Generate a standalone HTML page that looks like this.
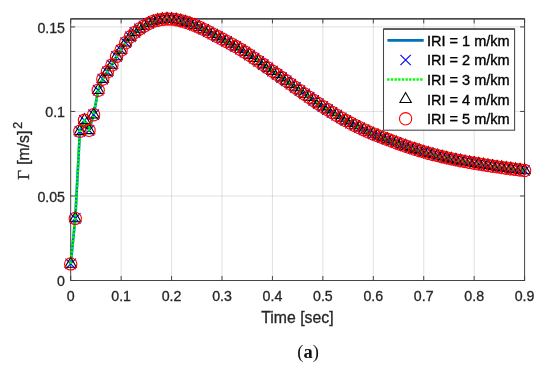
<!DOCTYPE html>
<html lang="en">
<head>
<meta charset="utf-8">
<title>Figure (a)</title>
<style>
html,body{margin:0;padding:0;background:#fff;}
body{width:550px;height:367px;overflow:hidden;position:relative;}
svg{display:block;position:absolute;left:0;top:0;}
svg text{font-family:"Liberation Sans",Arial,Helvetica,sans-serif;fill:#262626;stroke:#262626;stroke-width:0.3px;}
.tk text{font-size:14.2px;}
.lg text{font-size:14.55px;fill:#000;stroke:#000;stroke-width:0.35px;}
.cap{position:absolute;left:258px;width:100px;top:342px;text-align:center;font-family:"Liberation Serif","Times New Roman",serif;font-size:18.5px;color:#111;line-height:20px;}
</style>
</head>
<body>
<svg width="550" height="367" viewBox="0 0 550 367">
<rect x="0" y="0" width="550" height="367" fill="#fff"/>
<path d="M121.13 18.9V280.5M171.57 18.9V280.5M222 18.9V280.5M272.43 18.9V280.5M322.87 18.9V280.5M373.3 18.9V280.5M423.73 18.9V280.5M474.17 18.9V280.5" stroke="#1a1a1a" stroke-opacity="0.13" stroke-width="1" fill="none"/>
<path d="M70.7 195.97H524.6M70.7 111.43H524.6M70.7 26.9H524.6" stroke="#1a1a1a" stroke-opacity="0.13" stroke-width="1" fill="none"/>
<rect x="70.7" y="18.9" width="453.9" height="261.6" fill="none" stroke="#3c3c3c" stroke-width="0.95"/>
<path d="M70.7 280.5v-4.5M70.7 18.9v4.5M121.13 280.5v-4.5M121.13 18.9v4.5M171.57 280.5v-4.5M171.57 18.9v4.5M222 280.5v-4.5M222 18.9v4.5M272.43 280.5v-4.5M272.43 18.9v4.5M322.87 280.5v-4.5M322.87 18.9v4.5M373.3 280.5v-4.5M373.3 18.9v4.5M423.73 280.5v-4.5M423.73 18.9v4.5M474.17 280.5v-4.5M474.17 18.9v4.5M524.6 280.5v-4.5M524.6 18.9v4.5M70.7 280.5h4.5M524.6 280.5h-4.5M70.7 195.97h4.5M524.6 195.97h-4.5M70.7 111.43h4.5M524.6 111.43h-4.5M70.7 26.9h4.5M524.6 26.9h-4.5" stroke="#3c3c3c" stroke-width="0.95" fill="none"/>
<path d="M70.7 18.75H524.6" stroke="#4a4a4a" stroke-width="1.5" fill="none"/>
<g fill="none" stroke-linejoin="round">
<polyline points="70.7,263.9 75.28,218.4 79.87,131.3 84.45,120.3 89.04,130.3 93.62,114.7 98.21,90.2 102.79,79.1 107.38,71.8 111.96,65 116.55,56.4 121.13,50 125.72,42.69 130.3,36.8 134.89,32.37 139.47,28.9 144.06,26.03 148.64,23.42 153.23,21.38 157.81,20.26 162.4,19.54 166.98,18.98 171.57,19.15 176.15,19.71 180.74,20.76 185.32,22.03 189.91,23.51 194.49,25.23 199.08,27.14 203.66,29.38 208.25,31.76 212.83,34.13 217.42,36.54 222,38.99 226.58,41.46 231.17,43.97 235.75,46.56 240.34,49.24 244.92,52.05 249.51,55.04 254.09,58.16 258.68,61.33 263.26,64.56 267.85,67.83 272.43,71.09 277.02,74.3 281.6,77.54 286.19,80.82 290.77,84.12 295.36,87.41 299.94,90.68 304.53,93.95 309.11,97.2 313.7,100.41 318.28,103.56 322.87,106.61 327.45,109.56 332.04,112.41 336.62,115.18 341.21,117.91 345.79,120.55 350.38,123.07 354.96,125.45 359.55,127.72 364.13,129.9 368.72,131.99 373.3,133.96 377.88,135.81 382.47,137.58 387.05,139.3 391.64,141.01 396.22,142.72 400.81,144.41 405.39,146.04 409.98,147.59 414.56,149.07 419.15,150.5 423.73,151.88 428.32,153.2 432.9,154.45 437.49,155.63 442.07,156.77 446.66,157.85 451.24,158.88 455.83,159.86 460.41,160.78 465,161.63 469.58,162.41 474.17,163.18 478.75,163.94 483.34,164.71 487.92,165.45 492.51,166.18 497.09,166.88 501.68,167.54 506.26,168.18 510.85,168.79 515.43,169.39 520.02,169.96 524.6,170.5" stroke="#0072BD" stroke-width="2.6"/>
<path d="M65.5 258.7l10.4 10.4M65.5 269.1l10.4 -10.4M70.08 213.2l10.4 10.4M70.08 223.6l10.4 -10.4M74.67 126.1l10.4 10.4M74.67 136.5l10.4 -10.4M79.25 115.1l10.4 10.4M79.25 125.5l10.4 -10.4M83.84 125.1l10.4 10.4M83.84 135.5l10.4 -10.4M88.42 109.5l10.4 10.4M88.42 119.9l10.4 -10.4M93.01 85l10.4 10.4M93.01 95.4l10.4 -10.4M97.59 73.9l10.4 10.4M97.59 84.3l10.4 -10.4M102.18 66.6l10.4 10.4M102.18 77l10.4 -10.4M106.76 59.8l10.4 10.4M106.76 70.2l10.4 -10.4M111.35 51.2l10.4 10.4M111.35 61.6l10.4 -10.4M115.93 44.8l10.4 10.4M115.93 55.2l10.4 -10.4M120.52 37.49l10.4 10.4M120.52 47.89l10.4 -10.4M125.1 31.6l10.4 10.4M125.1 42l10.4 -10.4M129.69 27.17l10.4 10.4M129.69 37.57l10.4 -10.4M134.27 23.7l10.4 10.4M134.27 34.1l10.4 -10.4M138.86 20.83l10.4 10.4M138.86 31.23l10.4 -10.4M143.44 18.22l10.4 10.4M143.44 28.62l10.4 -10.4M148.03 16.18l10.4 10.4M148.03 26.58l10.4 -10.4M152.61 15.06l10.4 10.4M152.61 25.46l10.4 -10.4M157.2 14.34l10.4 10.4M157.2 24.74l10.4 -10.4M161.78 13.78l10.4 10.4M161.78 24.18l10.4 -10.4M166.37 13.95l10.4 10.4M166.37 24.35l10.4 -10.4M170.95 14.51l10.4 10.4M170.95 24.91l10.4 -10.4M175.54 15.56l10.4 10.4M175.54 25.96l10.4 -10.4M180.12 16.83l10.4 10.4M180.12 27.23l10.4 -10.4M184.71 18.31l10.4 10.4M184.71 28.71l10.4 -10.4M189.29 20.03l10.4 10.4M189.29 30.43l10.4 -10.4M193.88 21.94l10.4 10.4M193.88 32.34l10.4 -10.4M198.46 24.18l10.4 10.4M198.46 34.58l10.4 -10.4M203.05 26.56l10.4 10.4M203.05 36.96l10.4 -10.4M207.63 28.93l10.4 10.4M207.63 39.33l10.4 -10.4M212.22 31.34l10.4 10.4M212.22 41.74l10.4 -10.4M216.8 33.79l10.4 10.4M216.8 44.19l10.4 -10.4M221.38 36.26l10.4 10.4M221.38 46.66l10.4 -10.4M225.97 38.77l10.4 10.4M225.97 49.17l10.4 -10.4M230.55 41.36l10.4 10.4M230.55 51.76l10.4 -10.4M235.14 44.04l10.4 10.4M235.14 54.44l10.4 -10.4M239.72 46.85l10.4 10.4M239.72 57.25l10.4 -10.4M244.31 49.84l10.4 10.4M244.31 60.24l10.4 -10.4M248.89 52.96l10.4 10.4M248.89 63.36l10.4 -10.4M253.48 56.13l10.4 10.4M253.48 66.53l10.4 -10.4M258.06 59.36l10.4 10.4M258.06 69.76l10.4 -10.4M262.65 62.63l10.4 10.4M262.65 73.03l10.4 -10.4M267.23 65.89l10.4 10.4M267.23 76.29l10.4 -10.4M271.82 69.1l10.4 10.4M271.82 79.5l10.4 -10.4M276.4 72.34l10.4 10.4M276.4 82.74l10.4 -10.4M280.99 75.62l10.4 10.4M280.99 86.02l10.4 -10.4M285.57 78.92l10.4 10.4M285.57 89.32l10.4 -10.4M290.16 82.21l10.4 10.4M290.16 92.61l10.4 -10.4M294.74 85.48l10.4 10.4M294.74 95.88l10.4 -10.4M299.33 88.75l10.4 10.4M299.33 99.15l10.4 -10.4M303.91 92l10.4 10.4M303.91 102.4l10.4 -10.4M308.5 95.21l10.4 10.4M308.5 105.61l10.4 -10.4M313.08 98.36l10.4 10.4M313.08 108.76l10.4 -10.4M317.67 101.41l10.4 10.4M317.67 111.81l10.4 -10.4M322.25 104.36l10.4 10.4M322.25 114.76l10.4 -10.4M326.84 107.21l10.4 10.4M326.84 117.61l10.4 -10.4M331.42 109.98l10.4 10.4M331.42 120.38l10.4 -10.4M336.01 112.71l10.4 10.4M336.01 123.11l10.4 -10.4M340.59 115.35l10.4 10.4M340.59 125.75l10.4 -10.4M345.18 117.87l10.4 10.4M345.18 128.27l10.4 -10.4M349.76 120.25l10.4 10.4M349.76 130.65l10.4 -10.4M354.35 122.52l10.4 10.4M354.35 132.92l10.4 -10.4M358.93 124.7l10.4 10.4M358.93 135.1l10.4 -10.4M363.52 126.79l10.4 10.4M363.52 137.19l10.4 -10.4M368.1 128.76l10.4 10.4M368.1 139.16l10.4 -10.4M372.68 130.61l10.4 10.4M372.68 141.01l10.4 -10.4M377.27 132.38l10.4 10.4M377.27 142.78l10.4 -10.4M381.85 134.1l10.4 10.4M381.85 144.5l10.4 -10.4M386.44 135.81l10.4 10.4M386.44 146.21l10.4 -10.4M391.02 137.52l10.4 10.4M391.02 147.92l10.4 -10.4M395.61 139.21l10.4 10.4M395.61 149.61l10.4 -10.4M400.19 140.84l10.4 10.4M400.19 151.24l10.4 -10.4M404.78 142.39l10.4 10.4M404.78 152.79l10.4 -10.4M409.36 143.87l10.4 10.4M409.36 154.27l10.4 -10.4M413.95 145.3l10.4 10.4M413.95 155.7l10.4 -10.4M418.53 146.68l10.4 10.4M418.53 157.08l10.4 -10.4M423.12 148l10.4 10.4M423.12 158.4l10.4 -10.4M427.7 149.25l10.4 10.4M427.7 159.65l10.4 -10.4M432.29 150.43l10.4 10.4M432.29 160.83l10.4 -10.4M436.87 151.57l10.4 10.4M436.87 161.97l10.4 -10.4M441.46 152.65l10.4 10.4M441.46 163.05l10.4 -10.4M446.04 153.68l10.4 10.4M446.04 164.08l10.4 -10.4M450.63 154.66l10.4 10.4M450.63 165.06l10.4 -10.4M455.21 155.58l10.4 10.4M455.21 165.98l10.4 -10.4M459.8 156.43l10.4 10.4M459.8 166.83l10.4 -10.4M464.38 157.21l10.4 10.4M464.38 167.61l10.4 -10.4M468.97 157.98l10.4 10.4M468.97 168.38l10.4 -10.4M473.55 158.74l10.4 10.4M473.55 169.14l10.4 -10.4M478.14 159.51l10.4 10.4M478.14 169.91l10.4 -10.4M482.72 160.25l10.4 10.4M482.72 170.65l10.4 -10.4M487.31 160.98l10.4 10.4M487.31 171.38l10.4 -10.4M491.89 161.68l10.4 10.4M491.89 172.08l10.4 -10.4M496.48 162.34l10.4 10.4M496.48 172.74l10.4 -10.4M501.06 162.98l10.4 10.4M501.06 173.38l10.4 -10.4M505.65 163.59l10.4 10.4M505.65 173.99l10.4 -10.4M510.23 164.19l10.4 10.4M510.23 174.59l10.4 -10.4M514.82 164.76l10.4 10.4M514.82 175.16l10.4 -10.4M519.4 165.3l10.4 10.4M519.4 175.7l10.4 -10.4" stroke="#00f" stroke-width="1.1"/>
<polyline points="70.7,263.9 75.28,218.4 79.87,131.3 84.45,120.3 89.04,130.3 93.62,114.7 98.21,90.2 102.79,79.1 107.38,71.8 111.96,65 116.55,56.4 121.13,50 125.72,42.69 130.3,36.8 134.89,32.37 139.47,28.9 144.06,26.03 148.64,23.42 153.23,21.38 157.81,20.26 162.4,19.54 166.98,18.98 171.57,19.15 176.15,19.71 180.74,20.76 185.32,22.03 189.91,23.51 194.49,25.23 199.08,27.14 203.66,29.38 208.25,31.76 212.83,34.13 217.42,36.54 222,38.99 226.58,41.46 231.17,43.97 235.75,46.56 240.34,49.24 244.92,52.05 249.51,55.04 254.09,58.16 258.68,61.33 263.26,64.56 267.85,67.83 272.43,71.09 277.02,74.3 281.6,77.54 286.19,80.82 290.77,84.12 295.36,87.41 299.94,90.68 304.53,93.95 309.11,97.2 313.7,100.41 318.28,103.56 322.87,106.61 327.45,109.56 332.04,112.41 336.62,115.18 341.21,117.91 345.79,120.55 350.38,123.07 354.96,125.45 359.55,127.72 364.13,129.9 368.72,131.99 373.3,133.96 377.88,135.81 382.47,137.58 387.05,139.3 391.64,141.01 396.22,142.72 400.81,144.41 405.39,146.04 409.98,147.59 414.56,149.07 419.15,150.5 423.73,151.88 428.32,153.2 432.9,154.45 437.49,155.63 442.07,156.77 446.66,157.85 451.24,158.88 455.83,159.86 460.41,160.78 465,161.63 469.58,162.41 474.17,163.18 478.75,163.94 483.34,164.71 487.92,165.45 492.51,166.18 497.09,166.88 501.68,167.54 506.26,168.18 510.85,168.79 515.43,169.39 520.02,169.96 524.6,170.5" stroke="#0f0" stroke-width="2.7" stroke-dasharray="2.2 1.47"/>
<path d="M65 267.2L70.7 257.3L76.4 267.2ZM69.58 221.7L75.28 211.8L80.98 221.7ZM74.17 134.6L79.87 124.7L85.57 134.6ZM78.75 123.6L84.45 113.7L90.15 123.6ZM83.34 133.6L89.04 123.7L94.74 133.6ZM87.92 118L93.62 108.1L99.32 118ZM92.51 93.5L98.21 83.6L103.91 93.5ZM97.09 82.4L102.79 72.5L108.49 82.4ZM101.68 75.1L107.38 65.2L113.08 75.1ZM106.26 68.3L111.96 58.4L117.66 68.3ZM110.85 59.7L116.55 49.8L122.25 59.7ZM115.43 53.3L121.13 43.4L126.83 53.3ZM120.02 45.99L125.72 36.09L131.42 45.99ZM124.6 40.1L130.3 30.2L136 40.1ZM129.19 35.67L134.89 25.77L140.59 35.67ZM133.77 32.2L139.47 22.3L145.17 32.2ZM138.36 29.33L144.06 19.43L149.76 29.33ZM142.94 26.72L148.64 16.82L154.34 26.72ZM147.53 24.68L153.23 14.78L158.93 24.68ZM152.11 23.56L157.81 13.66L163.51 23.56ZM156.7 22.84L162.4 12.94L168.1 22.84ZM161.28 22.28L166.98 12.38L172.68 22.28ZM165.87 22.45L171.57 12.55L177.27 22.45ZM170.45 23.01L176.15 13.11L181.85 23.01ZM175.04 24.06L180.74 14.16L186.44 24.06ZM179.62 25.33L185.32 15.43L191.02 25.33ZM184.21 26.81L189.91 16.91L195.61 26.81ZM188.79 28.53L194.49 18.63L200.19 28.53ZM193.38 30.44L199.08 20.54L204.78 30.44ZM197.96 32.68L203.66 22.78L209.36 32.68ZM202.55 35.06L208.25 25.16L213.95 35.06ZM207.13 37.43L212.83 27.53L218.53 37.43ZM211.72 39.84L217.42 29.94L223.12 39.84ZM216.3 42.29L222 32.39L227.7 42.29ZM220.88 44.76L226.58 34.86L232.28 44.76ZM225.47 47.27L231.17 37.37L236.87 47.27ZM230.05 49.86L235.75 39.96L241.45 49.86ZM234.64 52.54L240.34 42.64L246.04 52.54ZM239.22 55.35L244.92 45.45L250.62 55.35ZM243.81 58.34L249.51 48.44L255.21 58.34ZM248.39 61.46L254.09 51.56L259.79 61.46ZM252.98 64.63L258.68 54.73L264.38 64.63ZM257.56 67.86L263.26 57.96L268.96 67.86ZM262.15 71.13L267.85 61.23L273.55 71.13ZM266.73 74.39L272.43 64.49L278.13 74.39ZM271.32 77.6L277.02 67.7L282.72 77.6ZM275.9 80.84L281.6 70.94L287.3 80.84ZM280.49 84.12L286.19 74.22L291.89 84.12ZM285.07 87.42L290.77 77.52L296.47 87.42ZM289.66 90.71L295.36 80.81L301.06 90.71ZM294.24 93.98L299.94 84.08L305.64 93.98ZM298.83 97.25L304.53 87.35L310.23 97.25ZM303.41 100.5L309.11 90.6L314.81 100.5ZM308 103.71L313.7 93.81L319.4 103.71ZM312.58 106.86L318.28 96.96L323.98 106.86ZM317.17 109.91L322.87 100.01L328.57 109.91ZM321.75 112.86L327.45 102.96L333.15 112.86ZM326.34 115.71L332.04 105.81L337.74 115.71ZM330.92 118.48L336.62 108.58L342.32 118.48ZM335.51 121.21L341.21 111.31L346.91 121.21ZM340.09 123.85L345.79 113.95L351.49 123.85ZM344.68 126.37L350.38 116.47L356.08 126.37ZM349.26 128.75L354.96 118.85L360.66 128.75ZM353.85 131.02L359.55 121.12L365.25 131.02ZM358.43 133.2L364.13 123.3L369.83 133.2ZM363.02 135.29L368.72 125.39L374.42 135.29ZM367.6 137.26L373.3 127.36L379 137.26ZM372.18 139.11L377.88 129.21L383.58 139.11ZM376.77 140.88L382.47 130.98L388.17 140.88ZM381.35 142.6L387.05 132.7L392.75 142.6ZM385.94 144.31L391.64 134.41L397.34 144.31ZM390.52 146.02L396.22 136.12L401.92 146.02ZM395.11 147.71L400.81 137.81L406.51 147.71ZM399.69 149.34L405.39 139.44L411.09 149.34ZM404.28 150.89L409.98 140.99L415.68 150.89ZM408.86 152.37L414.56 142.47L420.26 152.37ZM413.45 153.8L419.15 143.9L424.85 153.8ZM418.03 155.18L423.73 145.28L429.43 155.18ZM422.62 156.5L428.32 146.6L434.02 156.5ZM427.2 157.75L432.9 147.85L438.6 157.75ZM431.79 158.93L437.49 149.03L443.19 158.93ZM436.37 160.07L442.07 150.17L447.77 160.07ZM440.96 161.15L446.66 151.25L452.36 161.15ZM445.54 162.18L451.24 152.28L456.94 162.18ZM450.13 163.16L455.83 153.26L461.53 163.16ZM454.71 164.08L460.41 154.18L466.11 164.08ZM459.3 164.93L465 155.03L470.7 164.93ZM463.88 165.71L469.58 155.81L475.28 165.71ZM468.47 166.48L474.17 156.58L479.87 166.48ZM473.05 167.24L478.75 157.34L484.45 167.24ZM477.64 168.01L483.34 158.11L489.04 168.01ZM482.22 168.75L487.92 158.85L493.62 168.75ZM486.81 169.48L492.51 159.58L498.21 169.48ZM491.39 170.18L497.09 160.28L502.79 170.18ZM495.98 170.84L501.68 160.94L507.38 170.84ZM500.56 171.48L506.26 161.58L511.96 171.48ZM505.15 172.09L510.85 162.19L516.55 172.09ZM509.73 172.69L515.43 162.79L521.13 172.69ZM514.32 173.26L520.02 163.36L525.72 173.26ZM518.9 173.8L524.6 163.9L530.3 173.8Z" stroke="#000" stroke-width="1.1" stroke-linejoin="miter"/>
<g stroke="#f00" stroke-width="1.1"><circle cx="70.7" cy="263.9" r="6.15"/><circle cx="75.28" cy="218.4" r="6.15"/><circle cx="79.87" cy="131.3" r="6.15"/><circle cx="84.45" cy="120.3" r="6.15"/><circle cx="89.04" cy="130.3" r="6.15"/><circle cx="93.62" cy="114.7" r="6.15"/><circle cx="98.21" cy="90.2" r="6.15"/><circle cx="102.79" cy="79.1" r="6.15"/><circle cx="107.38" cy="71.8" r="6.15"/><circle cx="111.96" cy="65" r="6.15"/><circle cx="116.55" cy="56.4" r="6.15"/><circle cx="121.13" cy="50" r="6.15"/><circle cx="125.72" cy="42.69" r="6.15"/><circle cx="130.3" cy="36.8" r="6.15"/><circle cx="134.89" cy="32.37" r="6.15"/><circle cx="139.47" cy="28.9" r="6.15"/><circle cx="144.06" cy="26.03" r="6.15"/><circle cx="148.64" cy="23.42" r="6.15"/><circle cx="153.23" cy="21.38" r="6.15"/><circle cx="157.81" cy="20.26" r="6.15"/><circle cx="162.4" cy="19.54" r="6.15"/><circle cx="166.98" cy="18.98" r="6.15"/><circle cx="171.57" cy="19.15" r="6.15"/><circle cx="176.15" cy="19.71" r="6.15"/><circle cx="180.74" cy="20.76" r="6.15"/><circle cx="185.32" cy="22.03" r="6.15"/><circle cx="189.91" cy="23.51" r="6.15"/><circle cx="194.49" cy="25.23" r="6.15"/><circle cx="199.08" cy="27.14" r="6.15"/><circle cx="203.66" cy="29.38" r="6.15"/><circle cx="208.25" cy="31.76" r="6.15"/><circle cx="212.83" cy="34.13" r="6.15"/><circle cx="217.42" cy="36.54" r="6.15"/><circle cx="222" cy="38.99" r="6.15"/><circle cx="226.58" cy="41.46" r="6.15"/><circle cx="231.17" cy="43.97" r="6.15"/><circle cx="235.75" cy="46.56" r="6.15"/><circle cx="240.34" cy="49.24" r="6.15"/><circle cx="244.92" cy="52.05" r="6.15"/><circle cx="249.51" cy="55.04" r="6.15"/><circle cx="254.09" cy="58.16" r="6.15"/><circle cx="258.68" cy="61.33" r="6.15"/><circle cx="263.26" cy="64.56" r="6.15"/><circle cx="267.85" cy="67.83" r="6.15"/><circle cx="272.43" cy="71.09" r="6.15"/><circle cx="277.02" cy="74.3" r="6.15"/><circle cx="281.6" cy="77.54" r="6.15"/><circle cx="286.19" cy="80.82" r="6.15"/><circle cx="290.77" cy="84.12" r="6.15"/><circle cx="295.36" cy="87.41" r="6.15"/><circle cx="299.94" cy="90.68" r="6.15"/><circle cx="304.53" cy="93.95" r="6.15"/><circle cx="309.11" cy="97.2" r="6.15"/><circle cx="313.7" cy="100.41" r="6.15"/><circle cx="318.28" cy="103.56" r="6.15"/><circle cx="322.87" cy="106.61" r="6.15"/><circle cx="327.45" cy="109.56" r="6.15"/><circle cx="332.04" cy="112.41" r="6.15"/><circle cx="336.62" cy="115.18" r="6.15"/><circle cx="341.21" cy="117.91" r="6.15"/><circle cx="345.79" cy="120.55" r="6.15"/><circle cx="350.38" cy="123.07" r="6.15"/><circle cx="354.96" cy="125.45" r="6.15"/><circle cx="359.55" cy="127.72" r="6.15"/><circle cx="364.13" cy="129.9" r="6.15"/><circle cx="368.72" cy="131.99" r="6.15"/><circle cx="373.3" cy="133.96" r="6.15"/><circle cx="377.88" cy="135.81" r="6.15"/><circle cx="382.47" cy="137.58" r="6.15"/><circle cx="387.05" cy="139.3" r="6.15"/><circle cx="391.64" cy="141.01" r="6.15"/><circle cx="396.22" cy="142.72" r="6.15"/><circle cx="400.81" cy="144.41" r="6.15"/><circle cx="405.39" cy="146.04" r="6.15"/><circle cx="409.98" cy="147.59" r="6.15"/><circle cx="414.56" cy="149.07" r="6.15"/><circle cx="419.15" cy="150.5" r="6.15"/><circle cx="423.73" cy="151.88" r="6.15"/><circle cx="428.32" cy="153.2" r="6.15"/><circle cx="432.9" cy="154.45" r="6.15"/><circle cx="437.49" cy="155.63" r="6.15"/><circle cx="442.07" cy="156.77" r="6.15"/><circle cx="446.66" cy="157.85" r="6.15"/><circle cx="451.24" cy="158.88" r="6.15"/><circle cx="455.83" cy="159.86" r="6.15"/><circle cx="460.41" cy="160.78" r="6.15"/><circle cx="465" cy="161.63" r="6.15"/><circle cx="469.58" cy="162.41" r="6.15"/><circle cx="474.17" cy="163.18" r="6.15"/><circle cx="478.75" cy="163.94" r="6.15"/><circle cx="483.34" cy="164.71" r="6.15"/><circle cx="487.92" cy="165.45" r="6.15"/><circle cx="492.51" cy="166.18" r="6.15"/><circle cx="497.09" cy="166.88" r="6.15"/><circle cx="501.68" cy="167.54" r="6.15"/><circle cx="506.26" cy="168.18" r="6.15"/><circle cx="510.85" cy="168.79" r="6.15"/><circle cx="515.43" cy="169.39" r="6.15"/><circle cx="520.02" cy="169.96" r="6.15"/><circle cx="524.6" cy="170.5" r="6.15"/></g>
</g>
<g class="tk"><text x="70.7" y="301.4" text-anchor="middle">0</text><text x="121.13" y="301.4" text-anchor="middle">0.1</text><text x="171.57" y="301.4" text-anchor="middle">0.2</text><text x="222" y="301.4" text-anchor="middle">0.3</text><text x="272.43" y="301.4" text-anchor="middle">0.4</text><text x="322.87" y="301.4" text-anchor="middle">0.5</text><text x="373.3" y="301.4" text-anchor="middle">0.6</text><text x="423.73" y="301.4" text-anchor="middle">0.7</text><text x="474.17" y="301.4" text-anchor="middle">0.8</text><text x="524.6" y="301.4" text-anchor="middle">0.9</text><text x="65" y="286.2" text-anchor="end">0</text><text x="65" y="201.67" text-anchor="end">0.05</text><text x="65" y="117.13" text-anchor="end">0.1</text><text x="65" y="32.6" text-anchor="end">0.15</text></g>
<text x="297.4" y="322.5" text-anchor="middle" font-size="15.8">Time [sec]</text>
<text transform="translate(28.7,150.7) rotate(-90)" text-anchor="middle" font-size="15.8"><tspan font-family="Liberation Serif, Times New Roman, serif" font-size="17">Γ</tspan><tspan dx="0.6"> [m/s]</tspan><tspan dx="2.0" dy="-6.5" font-size="12.5">2</tspan></text>
<g class="lg"><rect x="383.5" y="29.1" width="131.10000000000002" height="101.1" fill="#fff" stroke="#454545" stroke-width="1.05"/><path d="M383.5 29.0H514.6" stroke="#4a4a4a" stroke-width="1.5" fill="none"/><path d="M387.4 40.4H423.7" stroke="#0072BD" stroke-width="2.6" fill="none"/><path d="M400.40000000000003 54.8l10.4 10.4M400.40000000000003 65.2l10.4 -10.4" stroke="#00f" stroke-width="1.1" fill="none"/><path d="M387.1 79.5H422.6" stroke="#0f0" stroke-width="2.7" stroke-dasharray="2.4 1.27" fill="none"/><path d="M399.90000000000003 102.5L405.6 92.60000000000001L411.3 102.5Z" stroke="#000" stroke-width="1.1" fill="none"/><circle cx="405.6" cy="118.8" r="6.15" stroke="#f00" stroke-width="1.1" fill="none"/><text x="426.9" y="45.8">IRI = 1 m/km</text><text x="426.9" y="65.4">IRI = 2 m/km</text><text x="426.9" y="84.9">IRI = 3 m/km</text><text x="426.9" y="104.6">IRI = 4 m/km</text><text x="426.9" y="124.2">IRI = 5 m/km</text></g>
</svg>
<div class="cap">(<b>a</b>)</div>
</body>
</html>
